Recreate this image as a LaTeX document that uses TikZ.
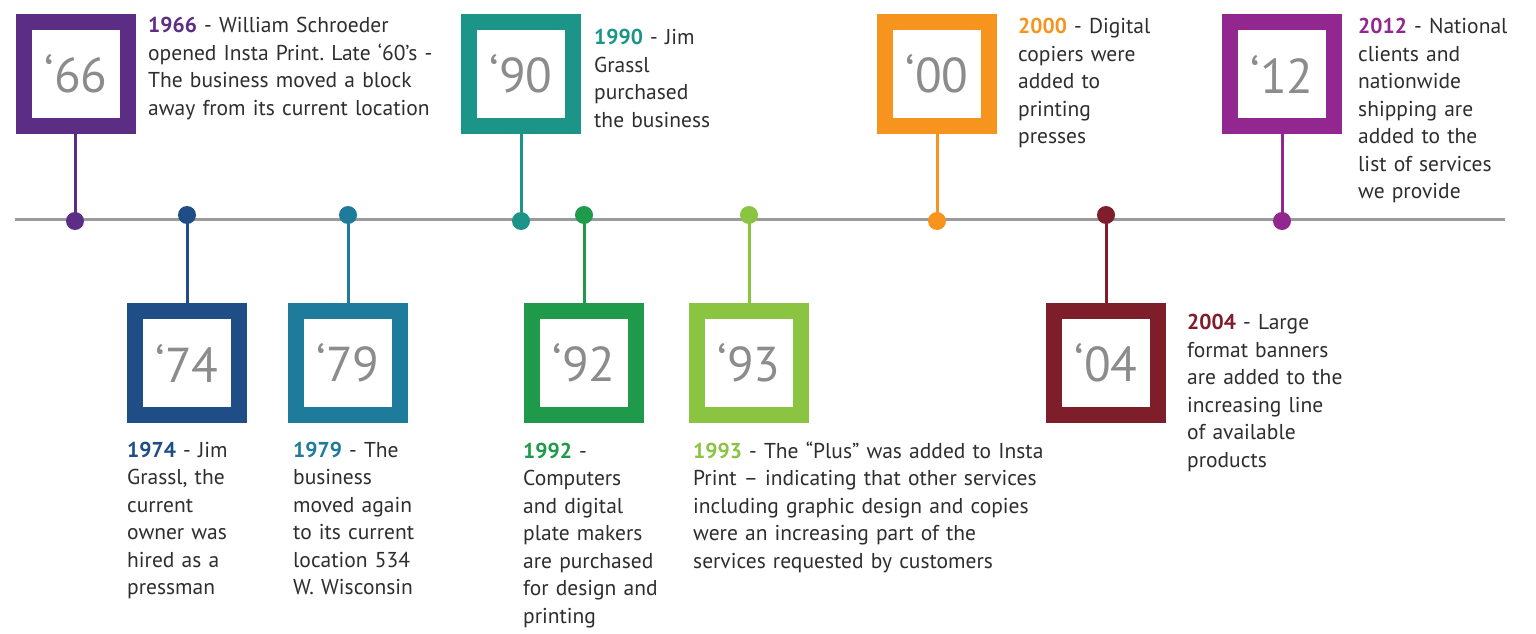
\documentclass[tikz,border=0pt]{standalone}
\usepackage{fontspec}
\setmainfont{PT Sans}
\frenchspacing
\definecolor{c66}{HTML}{5B2D84}
\definecolor{c74}{HTML}{1F4D85}
\definecolor{c79}{HTML}{1F7B9C}
\definecolor{c90}{HTML}{1D9488}
\definecolor{c92}{HTML}{1F9A4A}
\definecolor{c93}{HTML}{8BC441}
\definecolor{c00}{HTML}{F6941E}
\definecolor{c04}{HTML}{7E1E2B}
\definecolor{c12}{HTML}{92288F}
\definecolor{yeargrey}{HTML}{8C8C8C}
\definecolor{txt}{HTML}{2E2E2E}
\definecolor{linegrey}{HTML}{9B9B9B}
\tikzset{
  yearbox/.style={draw=#1, line width=16pt, fill=white, minimum size=104pt, inner sep=0pt,
    font=\fontsize{49}{49}\selectfont, text=yeargrey},
  yeardot/.style={circle, fill=#1, minimum size=18pt, inner sep=0pt},
  stem/.style={draw=#1, line width=3pt},
  desc/.style={font=\fontsize{21.5}{27.5}\selectfont\frenchspacing, text=txt, align=left, inner sep=0pt,
    anchor=base west, text width=420pt}
}
\newcommand{\yr}[2]{{\bfseries\color{#1}#2}}
\begin{document}
\begin{tikzpicture}[x=1pt,y=-1pt]
\useasboundingbox (0,0) rectangle (1536,634);
\fill[white] (0,0) rectangle (1536,634);
% timeline
\coordinate (tl0) at (15,219);
\coordinate (tl1) at (1505,219);
\draw[linegrey, line width=3pt] (tl0) -- (tl1);
% dots
\node[yeardot=c66] (d66) at (75,221) {};
\node[yeardot=c74] (d74) at (187,215) {};
\node[yeardot=c79] (d79) at (348,215) {};
\node[yeardot=c90] (d90) at (521,221) {};
\node[yeardot=c92] (d92) at (584,215) {};
\node[yeardot=c93] (d93) at (749,215) {};
\node[yeardot=c00] (d00) at (937,221) {};
\node[yeardot=c04] (d04) at (1106,215) {};
\node[yeardot=c12] (d12) at (1282,221) {};
% boxes
\node[yearbox=c66] (b66) at (76,74) {‘66};
\node[yearbox=c90] (b90) at (521,74) {‘90};
\node[yearbox=c00] (b00) at (937,74) {‘00};
\node[yearbox=c12] (b12) at (1282,74) {‘12};
\node[yearbox=c74] (b74) at (187,363) {‘74};
\node[yearbox=c79] (b79) at (348,363) {‘79};
\node[yearbox=c92] (b92) at (584,363) {‘92};
\node[yearbox=c93] (b93) at (749,363) {‘93};
\node[yearbox=c04] (b04) at (1106,363) {‘04};
% stems
\draw[stem=c66] (d66.center) -- (d66.center |- b66.south);
\draw[stem=c90] (d90.center) -- (d90.center |- b90.south);
\draw[stem=c00] (d00.center) -- (d00.center |- b00.south);
\draw[stem=c12] (d12.center) -- (d12.center |- b12.south);
\draw[stem=c74] (d74.center) -- (d74.center |- b74.north);
\draw[stem=c79] (d79.center) -- (d79.center |- b79.north);
\draw[stem=c92] (d92.center) -- (d92.center |- b92.north);
\draw[stem=c93] (d93.center) -- (d93.center |- b93.north);
\draw[stem=c04] (d04.center) -- (d04.center |- b04.north);
% descriptions
\node[desc] (t66) at (148,33) {\yr{c66}{1966} - William Schroeder\\opened Insta Print. Late ‘60’s -\\The business moved a block\\away from its current location};
\node[desc] (t90) at (594,45) {\yr{c90}{1990} - Jim\\Grassl\\purchased\\the business};
\node[desc] (t00) at (1018,34) {\yr{c00}{2000} - Digital\\copiers were\\added to\\printing\\presses};
\node[desc] (t12) at (1358,34) {\yr{c12}{2012} - National\\clients and\\nationwide\\shipping are\\added to the\\list of services\\we provide};
\node[desc] (t74) at (127,457) {\yr{c74}{1974} - Jim\\Grassl, the\\current\\owner was\\hired as a\\pressman};
\node[desc] (t79) at (293,457) {\yr{c79}{1979} - The\\business\\moved again\\to its current\\location 534\\W. Wisconsin};
\node[desc] (t92) at (523,458) {\yr{c92}{1992} -\\Computers\\and digital\\plate makers\\are purchased\\for design and\\printing};
\node[desc] (t93) at (693,458) {\yr{c93}{1993} - The “Plus” was added to Insta\\Print – indicating that other services\\including graphic design and copies\\were an increasing part of the\\services requested by customers};
\node[desc] (t04) at (1187,329.5) {\yr{c04}{2004} - Large\\format banners\\are added to the\\increasing line\\of available\\products};
\end{tikzpicture}
\end{document}
